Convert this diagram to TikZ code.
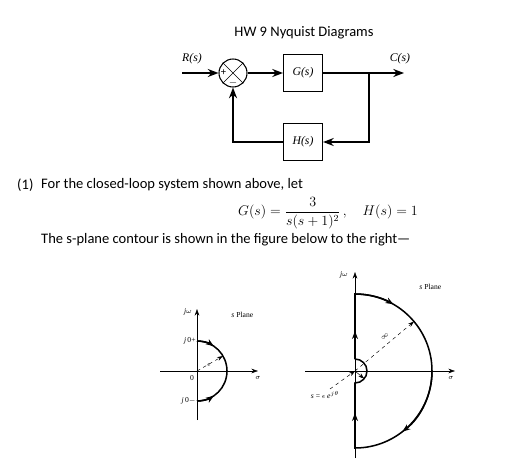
\documentclass[tikz,border=0pt]{standalone}
\usepackage{fontspec}
\setmainfont{Carlito}
\newfontfamily\tms{Liberation Serif}
\usepackage{tikz}
\usetikzlibrary{arrows.meta,positioning}

\begin{document}
\begin{tikzpicture}[x=0.03cm, y=0.03cm,
  blk/.style={draw, line width=0.9pt, minimum width=1.17cm, minimum height=1.11cm, font=\tms\itshape\fontsize{10}{12}\selectfont},
  sumnode/.style={draw, circle, line width=0.9pt, minimum size=0.84cm, inner sep=0pt},
  arrow/.style={line width=2pt, -{Stealth[length=3.2mm, width=2.4mm]}},
  lbl/.style={font=\tms\itshape\fontsize{10}{12}\selectfont},
  txt/.style={font=\fontsize{12.4}{14}\selectfont, anchor=west, inner sep=0pt},
  axis/.style={line width=0.5pt, -{Stealth[length=2mm, width=1.4mm]}},
  contour/.style={line width=1.3pt},
  mid/.style={-{Stealth[length=2.4mm, width=1.8mm]}, line width=1.3pt},
  small/.style={font=\tms\fontsize{6.5}{8}\selectfont, inner sep=1pt},
  rad/.style={line width=0.4pt, dashed, -{Stealth[length=1.8mm, width=1.2mm]}},
]
  \useasboundingbox (0,0) rectangle (505,465);

  % ---- Title ----
  \node[font=\fontsize{12.4}{14}\selectfont] (title) at (304,432) {HW 9 Nyquist Diagrams};

  % ---- Block diagram ----
  \coordinate (in) at (182,392);
  \node[sumnode] (sum) at (233,392) {};
  \node[blk] (gblk) at (303,392) {G(s)};
  \node[blk] (hblk) at (303,323) {H(s)};
  \coordinate (branch) at (369,392);
  \coordinate (out) at (404,392);
  \node[lbl] (rlbl) at (192,406) {R(s)};
  \node[lbl] (clbl) at (400,406) {C(s)};

  \draw (sum.north east) -- (sum.south west) (sum.north west) -- (sum.south east);
  \node[font=\fontsize{9}{10}\selectfont, inner sep=0pt] (plus) at (223.5,392.5) {+};
  \node[font=\fontsize{9}{10}\selectfont, inner sep=0pt] (minus) at (233,382.5) {$-$};

  \draw[arrow] (in) -- (sum);
  \draw[arrow] (sum) -- (gblk);
  \draw[arrow] (gblk) -- (out);
  \draw[arrow] (branch) |- (hblk);
  \draw[arrow] (hblk) -| (sum);

  % ---- Text ----
  \node[txt] (num) at (17,280) {(1)};
  \node[txt] (line1) at (41,280) {For the closed-loop system shown above, let};
  \node[font=\fontsize{11.6}{13}\selectfont] (eqn) at (328,252)
    {$\displaystyle G(s)=\frac{3}{s(s+1)^2}\,,\quad H(s)=1$};
  \node[txt] (line2) at (41,225) {The s-plane contour is shown in the figure below to the right---};

  % ---- Left s-plane ----
  \coordinate (oa) at (197,94);
  \coordinate (oatop) at (197,156);
  \coordinate (oabot) at (197,45);
  \coordinate (oaleft) at (160,94);
  \coordinate (oaright) at (258,94);
  \draw[axis] (oabot) -- (oatop);
  \draw[axis] (oaleft) -- (oaright);
  \draw[contour] (197,124) arc (90:-90:30);
  \draw[mid] ([shift={(90:30)}]oa) arc (90:56:30);
  \draw[mid] ([shift={(-90:30)}]oa) arc (-90:-56:30);
  \draw[rad] (oa) -- ([shift={(30:30)}]oa);
  \node[small] (epsa) at (209,100) {$\epsilon$};
  \node[small, font=\tms\itshape\fontsize{6.5}{8}\selectfont] (jwa) at (188,153) {j$\omega$};
  \node[small, anchor=west] (spa) at (230,150) {\textit{s} Plane};
  \node[small] (siga) at (258,87) {$\sigma$};
  \node[small] (zeroa) at (192,87) {0};
  \node[small, anchor=east] (jpa) at (197,124) {\textit{j}\,0+};
  \node[small, anchor=east] (jma) at (197,64) {\textit{j}\,0$-$};

  % ---- Right s-plane ----
  \coordinate (ob) at (355,94);
  \coordinate (obtop) at (355,193);
  \coordinate (obbot) at (355,7);
  \coordinate (obleft) at (305,94);
  \coordinate (obright) at (455,94);
  \draw[axis] (obbot) -- (obtop);
  \draw[axis] (obleft) -- (obright);
  \draw[contour] (355,106) -- (355,171) arc (90:-90:77) -- (355,82) arc (-90:90:12);
  \draw[mid] (355,106) -- (355,134);
  \draw[mid] (355,17) -- (355,52);
  \draw[mid] ([shift={(90:77)}]ob) arc (90:60:77);
  \draw[mid] ([shift={(0:77)}]ob) arc (0:-52:77);
  \draw[rad] (ob) -- ([shift={(40:77)}]ob);
  \node[small, rotate=40] (inf) at (385,128) {$\infty$};
  \draw[rad] (330,76) -- (ob);
  \draw[line width=0.4pt, -{Stealth[length=1.8mm, width=1.2mm]}] (ob) -- ([shift={(-40:12)}]ob);
  \node[small] (sel) at (325,70) {\textit{s} = $\epsilon\,$\textit{e}$^{j\theta}$};
  \node[small, font=\tms\itshape\fontsize{6.5}{8}\selectfont] (jwb) at (344,190) {j$\omega$};
  \node[small, anchor=west] (spb) at (418,178) {\textit{s} Plane};
  \node[small] (sigb) at (451,87) {$\sigma$};
\end{tikzpicture}
\end{document}
